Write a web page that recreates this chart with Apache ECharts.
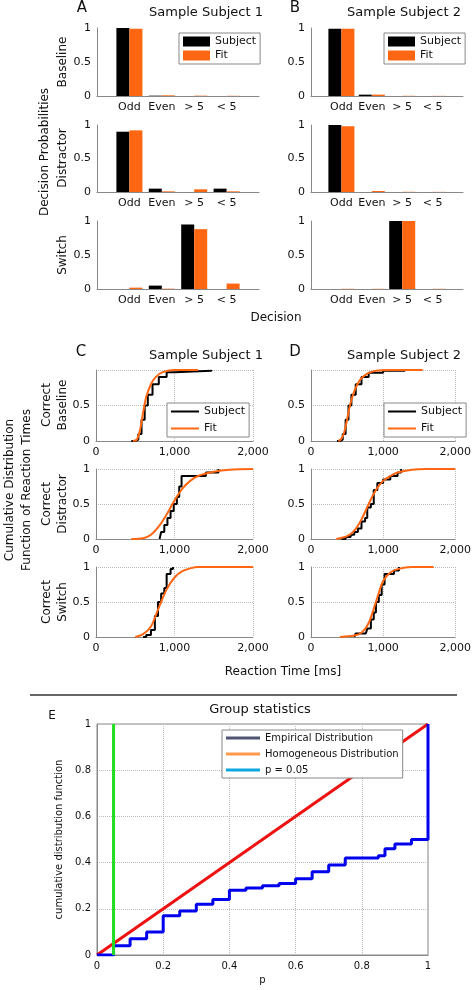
<!DOCTYPE html><html><head><meta charset="utf-8">
<script src="https://cdn.jsdelivr.net/npm/echarts@6/dist/echarts.min.js"></script>
<style>html,body{margin:0;background:#fff}#c{width:474px;height:990px}</style></head><body><div id="c"></div><script>
const decisionCats=['','Odd','Even','> 5','< 5',''];
const condNames=['Baseline','Distractor','Switch'];
// bars [subject, fit] per subject (A,B) per condition
const barA_subj=[[1,0.005,0,0],[0.9,0.05,0,0.05],[0,0.05,0.95,0]];
const barA_fit=[[0.99,0.01,0.005,0.003],[0.92,0.01,0.04,0.01],[0.02,0.005,0.88,0.08]];
const barB_subj=[[0.99,0.02,0,0],[1,0,0,0],[0,0,1,0]];
const barB_fit=[[0.99,0.02,0.003,0.002],[0.98,0.015,0.003,0.002],[0.003,0.003,1,0.003]];
const cdfC_subj=[
[[450,0],[500,0.02],[540,0.1],[580,0.3],[620,0.5],[660,0.65],[720,0.8],[800,0.9],[900,0.97],[1000,0.99],[1470,1]],
[[810,0],[830,0.1],[870,0.2],[910,0.3],[950,0.4],[990,0.5],[1030,0.6],[1060,0.75],[1090,0.9],[1350,0.9],[1400,0.95],[1560,0.97],[1560,1]],
[[600,0],[640,0.03],[700,0.1],[750,0.3],[790,0.5],[830,0.62],[870,0.7],[900,0.9],[950,0.97],[980,1]]];
const cdfC_fit=[
[[470,0],[520,0.02],[560,0.15],[600,0.4],[640,0.62],[700,0.8],[760,0.9],[850,0.97],[1000,1],[1300,1]],
[[450,0],[600,0.01],[700,0.06],[800,0.18],[900,0.35],[1000,0.55],[1100,0.72],[1200,0.83],[1300,0.9],[1500,0.96],[1700,0.99],[2000,1]],
[[500,0],[600,0.04],[700,0.15],[800,0.42],[900,0.68],[1000,0.85],[1100,0.94],[1200,0.98],[1300,1],[2000,1]]];
const cdfD_subj=[
[[360,0],[400,0.02],[440,0.1],[480,0.3],[520,0.5],[560,0.65],[620,0.8],[700,0.9],[800,0.96],[1000,0.99],[1300,1]],
[[420,0],[480,0.03],[550,0.06],[600,0.1],[650,0.15],[700,0.25],[750,0.3],[780,0.45],[830,0.5],[870,0.7],[920,0.8],[1000,0.85],[1100,0.9],[1200,0.95],[1250,1]],
[[600,0],[620,0.05],[760,0.05],[780,0.12],[830,0.25],[870,0.35],[900,0.5],[940,0.6],[980,0.75],[1020,0.9],[1100,0.9],[1150,0.95],[1220,1]]];
const cdfD_fit=[
[[380,0],[420,0.03],[460,0.12],[500,0.3],[540,0.5],[600,0.7],[680,0.86],[780,0.95],[900,0.99],[1100,1],[1550,1]],
[[350,0],[500,0.04],[600,0.12],[700,0.28],[800,0.5],[900,0.7],[1000,0.83],[1100,0.9],[1200,0.95],[1400,0.99],[1600,1],[2000,1]],
[[400,0],[600,0.02],[700,0.06],[800,0.2],[900,0.5],[1000,0.8],[1100,0.92],[1200,0.97],[1400,1],[1700,1]]];
const empirical=[[0,0],[0.03,0],[0.05,0.04],[0.1,0.07],[0.15,0.1],[0.2,0.14],[0.2,0.17],[0.25,0.19],[0.3,0.22],[0.35,0.24],[0.4,0.28],[0.45,0.29],[0.5,0.3],[0.55,0.31],[0.6,0.33],[0.65,0.36],[0.7,0.39],[0.75,0.42],[0.8,0.42],[0.85,0.43],[0.87,0.46],[0.9,0.48],[0.95,0.5],[1,0.52],[1,1]];
const homogeneous=[[0,0],[1,1]];
const pThresh=[[0.05,0],[0.05,1]];

const F='DejaVu Sans', G='#888', T='#111';
const grid=[],xAxis=[],yAxis=[],series=[],legend=[],graphic=[];
function txt(x,y,s,size,rot,align){graphic.push({type:'text',x:x,y:y,rotation:rot?Math.PI/2:0,style:{text:s,font:size+'px '+F,fill:T,align:align||'center',verticalAlign:'middle'}});}
// bar panels
const barRows=[[28,96],[125,192],[221,289]];
[[97,259,barA_subj,barA_fit],[311,463,barB_subj,barB_fit]].forEach(p=>{
 barRows.forEach((r,i)=>{
  const gi=grid.length;
  grid.push({left:p[0],top:r[0],width:p[1]-p[0],height:r[1]-r[0]});
  xAxis.push({gridIndex:gi,type:'category',data:decisionCats,boundaryGap:false,axisTick:{show:false},axisLine:{lineStyle:{color:G}},axisLabel:{interval:0,color:T,fontFamily:F,fontSize:11,margin:6},splitLine:{show:false}});
  yAxis.push({gridIndex:gi,type:'value',min:0,max:1,interval:0.5,axisLine:{show:true,lineStyle:{color:G}},axisTick:{show:false},splitLine:{show:false},axisLabel:{color:T,fontFamily:F,fontSize:11,margin:6,formatter:v=>v===0.5?'0.5':String(v)}});
  series.push({type:'bar',name:'Subject',xAxisIndex:gi,yAxisIndex:gi,data:[null].concat(p[2][i],[null]),barWidth:13,barGap:'0%',itemStyle:{color:'#000'},silent:true});
  series.push({type:'bar',name:'Fit',xAxisIndex:gi,yAxisIndex:gi,data:[null].concat(p[3][i],[null]),barWidth:13,barGap:'0%',itemStyle:{color:'#ff6611'},silent:true});
 });
});
// cdf panels
const cdfRows=[[370,441],[469,539],[567,637]];
[[96,253,cdfC_subj,cdfC_fit],[311,469,cdfD_subj,cdfD_fit]].forEach(p=>{
 cdfRows.forEach((r,i)=>{
  const gi=grid.length;
  grid.push({left:p[0],top:r[0],width:p[1]-p[0],height:r[1]-r[0]});
  xAxis.push({gridIndex:gi,type:'value',min:0,max:2000,interval:1000,axisTick:{show:false},axisLine:{lineStyle:{color:G}},axisLabel:{color:T,fontFamily:F,fontSize:11,margin:6},splitLine:{show:true,lineStyle:{type:'dotted',color:'#bbb'}}});
  yAxis.push({gridIndex:gi,type:'value',min:0,max:1,interval:0.5,axisLine:{show:true,lineStyle:{color:G}},axisTick:{show:false},splitLine:{show:true,lineStyle:{type:'dotted',color:'#bbb'}},axisLabel:{color:T,fontFamily:F,fontSize:11,margin:6,formatter:v=>(i===0&&v===1)?'':String(v)}});
  series.push({type:'line',name:'Subject',step:'end',xAxisIndex:gi,yAxisIndex:gi,data:p[2][i],showSymbol:false,lineStyle:{color:'#000',width:2},silent:true});
  series.push({type:'line',name:'Fit',smooth:0.3,xAxisIndex:gi,yAxisIndex:gi,data:p[3][i],showSymbol:false,lineStyle:{color:'#ff6611',width:2},silent:true});
 });
});
// E
const ge=grid.length;
grid.push({left:97,top:724,width:331,height:231,show:true,borderColor:G,borderWidth:1});
xAxis.push({gridIndex:ge,type:'value',min:0,max:1,interval:0.2,axisTick:{show:false},axisLine:{lineStyle:{color:G}},axisLabel:{color:T,fontFamily:F,fontSize:10,margin:6},splitLine:{show:true,lineStyle:{type:'dotted',color:'#bbb'}},name:'p',nameLocation:'middle',nameGap:20,nameTextStyle:{color:T,fontFamily:F,fontSize:10}});
yAxis.push({gridIndex:ge,type:'value',min:0,max:1,interval:0.2,axisLine:{show:true,lineStyle:{color:G}},axisTick:{show:false},splitLine:{show:true,lineStyle:{type:'dotted',color:'#bbb'}},axisLabel:{color:T,fontFamily:F,fontSize:10,margin:6},name:'cumulative distribution function',nameLocation:'middle',nameGap:26,nameTextStyle:{color:T,fontFamily:F,fontSize:10}});
series.push({type:'line',name:'Empirical Distribution',step:'end',xAxisIndex:ge,yAxisIndex:ge,data:empirical,showSymbol:false,lineStyle:{color:'#0000ee',width:3},silent:true,z:3});
series.push({type:'line',name:'Homogeneous Distribution',xAxisIndex:ge,yAxisIndex:ge,data:homogeneous,showSymbol:false,lineStyle:{color:'#ee1111',width:3},silent:true,z:2});
series.push({type:'line',name:'p = 0.05',xAxisIndex:ge,yAxisIndex:ge,data:pThresh,showSymbol:false,lineStyle:{color:'#22dd22',width:3},silent:true,z:4});
const lg={orient:'vertical',selectedMode:false,backgroundColor:'#fff',borderColor:G,borderWidth:1,padding:[3,4],itemGap:3,textStyle:{fontFamily:F,fontSize:11,color:T}};
legend.push(Object.assign({},lg,{left:179,top:33,itemWidth:27,itemHeight:10,data:[{name:'Subject',icon:'rect'},{name:'Fit',icon:'rect'}]}));
legend.push(Object.assign({},lg,{left:384,top:33,itemWidth:27,itemHeight:10,data:[{name:'Subject',icon:'rect'},{name:'Fit',icon:'rect'}]}));
legend.push(Object.assign({},lg,{left:167,top:403,itemWidth:28,itemHeight:2,itemGap:6,data:[{name:'Subject',icon:'rect'},{name:'Fit',icon:'rect'}]}));
legend.push(Object.assign({},lg,{left:384,top:403,itemWidth:28,itemHeight:2,itemGap:6,data:[{name:'Subject',icon:'rect'},{name:'Fit',icon:'rect'}]}));
legend.push(Object.assign({},lg,{left:222,top:730,itemWidth:34,itemHeight:3,itemGap:6,textStyle:{fontFamily:F,fontSize:10,color:T},data:[{name:'Empirical Distribution',icon:'rect'},{name:'Homogeneous Distribution',icon:'rect'},{name:'p = 0.05',icon:'rect'}]}));
// texts
txt(82,8,'A',15);txt(295,8,'B',15);txt(206,13,'Sample Subject 1',13);txt(404,13,'Sample Subject 2',13);
txt(63,62,'Baseline',12,1);txt(63,158,'Distractor',12,1);txt(63,255,'Switch',12,1);
txt(45,152,'Decision Probabilities',12,1);txt(276,318,'Decision',12);
txt(81,352,'C',15);txt(295,352,'D',15);txt(206,356,'Sample Subject 1',13);txt(404,356,'Sample Subject 2',13);
[[405,'Correct','Baseline'],[504,'Correct','Distractor'],[602,'Correct','Switch']].forEach(a=>{txt(47,a[0],a[1],12,1);txt(63,a[0],a[2],12,1);});
txt(10,490,'Cumulative Distribution',12,1);txt(27,490,'Function of Reaction Times',12,1);
txt(283,672,'Reaction Time [ms]',12);
graphic.push({type:'line',shape:{x1:30,y1:695,x2:457,y2:695},style:{stroke:'#666',lineWidth:2}});
txt(52,716,'E',12);txt(260,710,'Group statistics',13);
const ch=echarts.init(document.getElementById('c'));
ch.setOption({animation:false,grid,xAxis,yAxis,series,legend,graphic});
</script></body></html>
